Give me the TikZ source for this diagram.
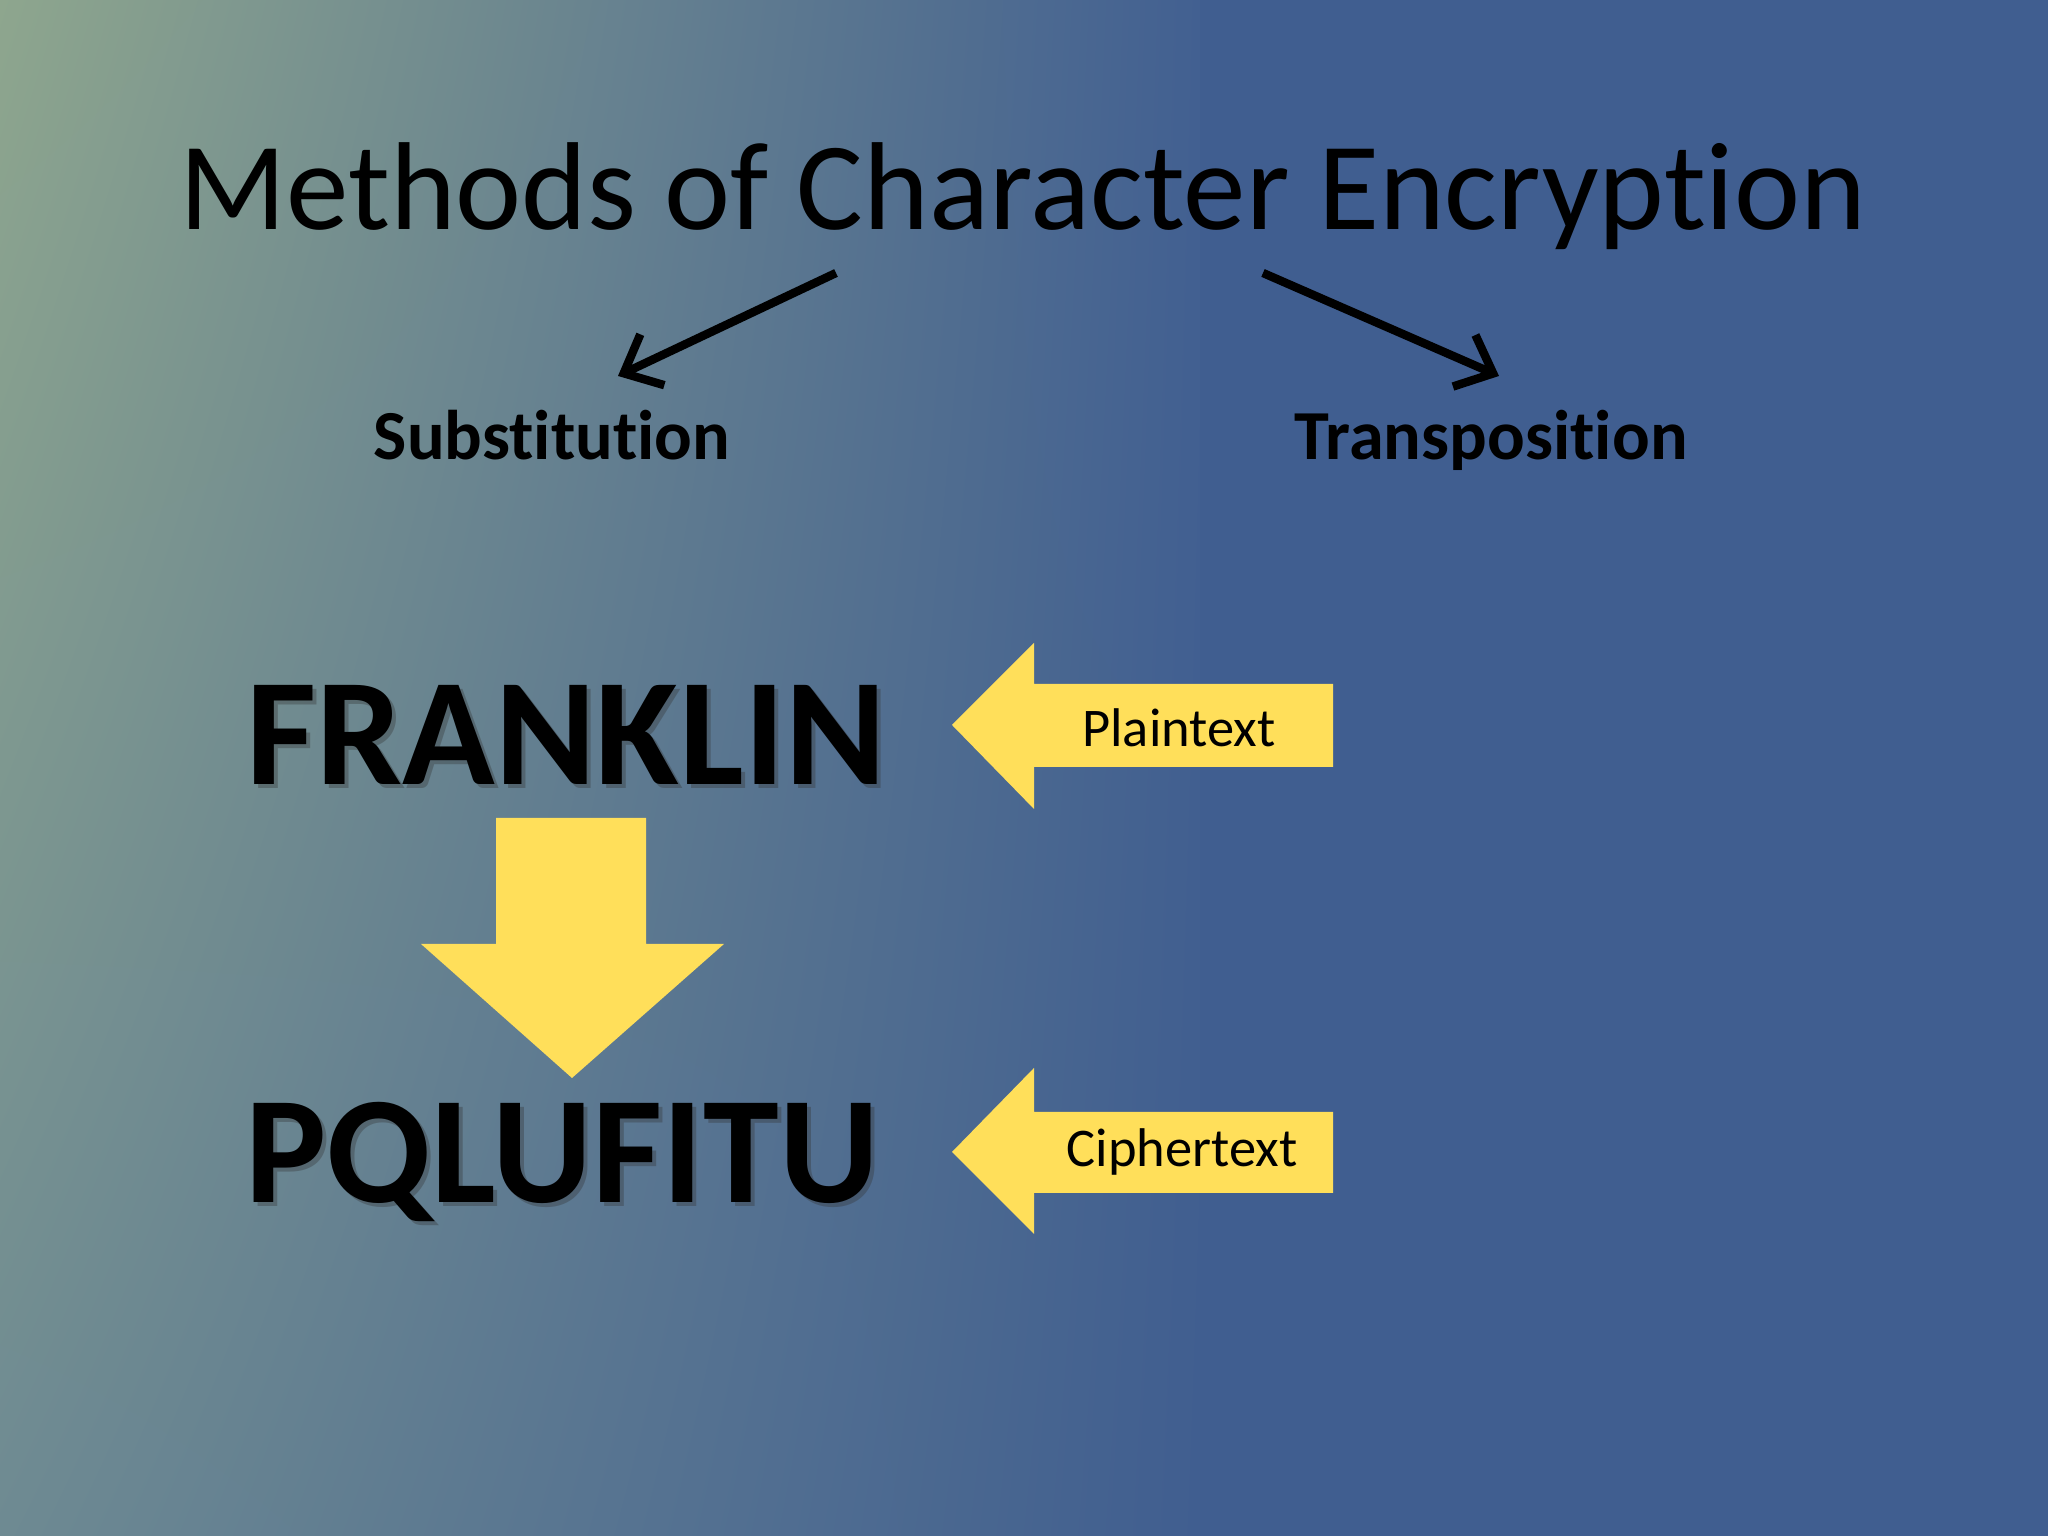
\documentclass[tikz,border=0pt]{standalone}
\usepackage{fontspec}
\setmainfont[Ligatures={NoCommon,NoRequired,NoContextual}]{Carlito}
\usetikzlibrary{arrows.meta,shadings}
\definecolor{yel}{HTML}{FFDF5A}
\definecolor{bgUL}{RGB}{142,166,142}
\definecolor{bgUR}{RGB}{66,96,145}
\definecolor{bgLL}{RGB}{110,138,146}
\definecolor{bgLR}{RGB}{64,94,144}
\tikzset{conn/.style={line width=2.4pt,-{Straight Barb[length=9pt,width=16pt,line width=2.4pt]}},
 yarrow/.style={fill=yel,draw=none},
 big/.style={font=\fontsize{43.5}{48}\selectfont\bfseries},
 shad/.style={big,text=black!80,opacity=0.35},
 lab/.style={font=\fontsize{15.5}{18}\selectfont}}
\begin{document}
\begin{tikzpicture}
\fill[bgLR] (0,0) rectangle (20.48,15.36);
\shade[upper left=bgUL, upper right=bgUR, lower left=bgLL, lower right=bgLR] (0,0) rectangle (12,15.36);
\useasboundingbox (0,0) rectangle (20.48,15.36);
\node (title) at (10.23,13.40) {\fontsize{35.6}{40}\selectfont Methods of Character Encryption};
\node[font=\fontsize{20}{24}\selectfont\bfseries,anchor=base] (sub) at (5.52,10.76) {Substitution};
\node[font=\fontsize{20}{24}\selectfont\bfseries,anchor=base] (trans) at (14.91,10.76) {Transposition};
\coordinate (a1s) at (8.36,12.63); \coordinate (a1e) at (6.18,11.60);
\coordinate (a2s) at (12.63,12.63); \coordinate (a2e) at (14.99,11.60);
\draw[conn] (a1s) -- (a1e);
\draw[conn] (a2s) -- (a2e);
\node[shad] at (5.70,7.97) {FRANKLIN};
\node[big] (fr) at (5.66,8.01) {FRANKLIN};
\node[shad] at (5.66,3.70) {PQLUFITU};
\node[big] (pq) at (5.62,3.74) {PQLUFITU};
\fill[yarrow] (9.52,8.11) -- (10.34,8.93) -- (10.34,8.52) -- (13.33,8.52) -- (13.33,7.69) -- (10.34,7.69) -- (10.34,7.27) -- cycle;
\node[lab] (pl) at (11.79,8.08) {Plaintext};
\fill[yarrow] (9.52,3.84) -- (10.34,4.68) -- (10.34,4.24) -- (13.33,4.24) -- (13.33,3.43) -- (10.34,3.43) -- (10.34,3.02) -- cycle;
\node[lab] (ci) at (11.82,3.84) {Ciphertext};
\fill[yarrow] (4.96,7.18) -- (6.46,7.18) -- (6.46,5.92) -- (7.24,5.92) -- (5.72,4.58) -- (4.21,5.92) -- (4.96,5.92) -- cycle;
\end{tikzpicture}
\end{document}
